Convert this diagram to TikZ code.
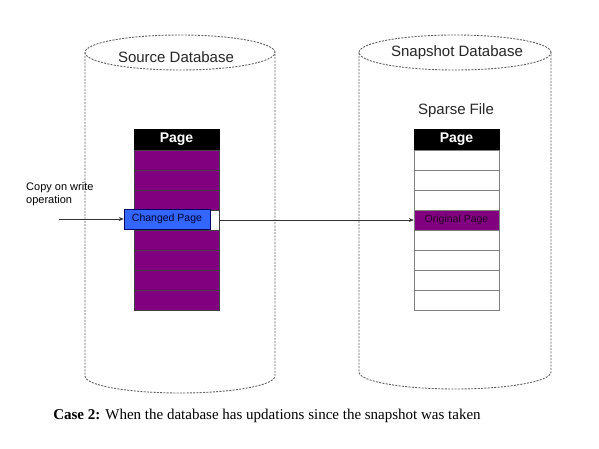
\documentclass[tikz,border=0pt]{standalone}
\usepackage{fontspec}
\setmainfont{Liberation Serif}
\newfontfamily\arialfont{Liberation Sans}
\usetikzlibrary{arrows.meta, positioning}
\definecolor{PagePurple}{RGB}{128, 0, 128}
\definecolor{ChangeBlue}{RGB}{51, 102, 255}
\definecolor{RimGray}{RGB}{95, 95, 95}

\begin{document}
\begin{tikzpicture}[x=1pt, y=-1pt, font=\arialfont,
  rim/.style={RimGray, dash pattern=on 2pt off 1.3pt, line width=0.9pt},
  pghead/.style={draw=black, fill=black, text=white, font=\arialfont\bfseries\fontsize{14}{16}\selectfont, minimum width=85pt, minimum height=21pt, inner sep=0pt},
  srcrow/.style={draw=black!75, fill=PagePurple, minimum width=85pt, minimum height=20pt, inner sep=0pt},
  snprow/.style={draw=gray, fill=white, minimum width=85pt, minimum height=20pt, inner sep=0pt, font=\arialfont\fontsize{10.5}{12}\selectfont, text=PagePurple!30!black},
  chgbox/.style={draw=blue!40!black, fill=ChangeBlue, minimum width=86pt, minimum height=20pt, inner sep=0pt, font=\arialfont\fontsize{10.5}{12}\selectfont, text=blue!20!black},
  dblabel/.style={font=\arialfont\fontsize{15}{18}\selectfont, text=black!85},
  ar/.style={-{Stealth[length=5pt, width=4pt]}, black!80, line width=0.6pt}]
\useasboundingbox[fill=white] (0,0) rectangle (599,449);
% source database
\draw[rim] (180,52.5) ellipse [x radius=95pt, y radius=17.5pt];
\draw[rim] (85,52.5) -- (85,376) arc[start angle=180, end angle=360, x radius=95pt, y radius=17pt] -- (275,52.5);
\node[dblabel] (srclbl) at (176,57) {Source Database};
% snapshot database
\draw[rim] (455,52.5) ellipse [x radius=96pt, y radius=17.5pt];
\draw[rim] (359,52.5) -- (359,372) arc[start angle=180, end angle=360, x radius=96pt, y radius=17pt] -- (551,52.5);
\node[dblabel] (snplbl) at (457,53) {Snapshot Database};
\node[dblabel] (sparse) at (456,111) {Sparse File};
% page columns
\node[pghead] (srchead) at (176.5,139.5) {Page};
\node[pghead] (snphead) at (456.5,139.5) {Page};
\foreach \i in {1,...,8}{
  \ifnum\i=4 \def\rowfill{white}\def\rowtext{}\else\def\rowfill{PagePurple}\def\rowtext{}\fi
  \node[srcrow, fill=\rowfill] (src\i) at (176.5,140+20*\i) {};
  \ifnum\i=4 \def\rowfill{PagePurple}\def\rowtext{Original Page}\else\def\rowfill{white}\fi
  \node[snprow, fill=\rowfill] (snp\i) at (456.5,140+20*\i) {\rowtext};
}
\node[chgbox] (changed) at (167,219) {Changed Page};
\node[font=\arialfont\fontsize{11}{12.5}\selectfont, align=left, anchor=west, inner sep=0pt] (cwtext) at (26,194) {Copy on write\\operation};
\coordinate (cwstart) at (59,219);
\draw[ar] (cwstart) -- (changed.west);
\draw[ar] (src4.east) -- (snp4.west);
\node[font=\fontsize{15}{18}\selectfont] (caption) at (267,416) {\textbf{Case 2:} When the database has updations since the snapshot was taken};
\end{tikzpicture}
\end{document}
